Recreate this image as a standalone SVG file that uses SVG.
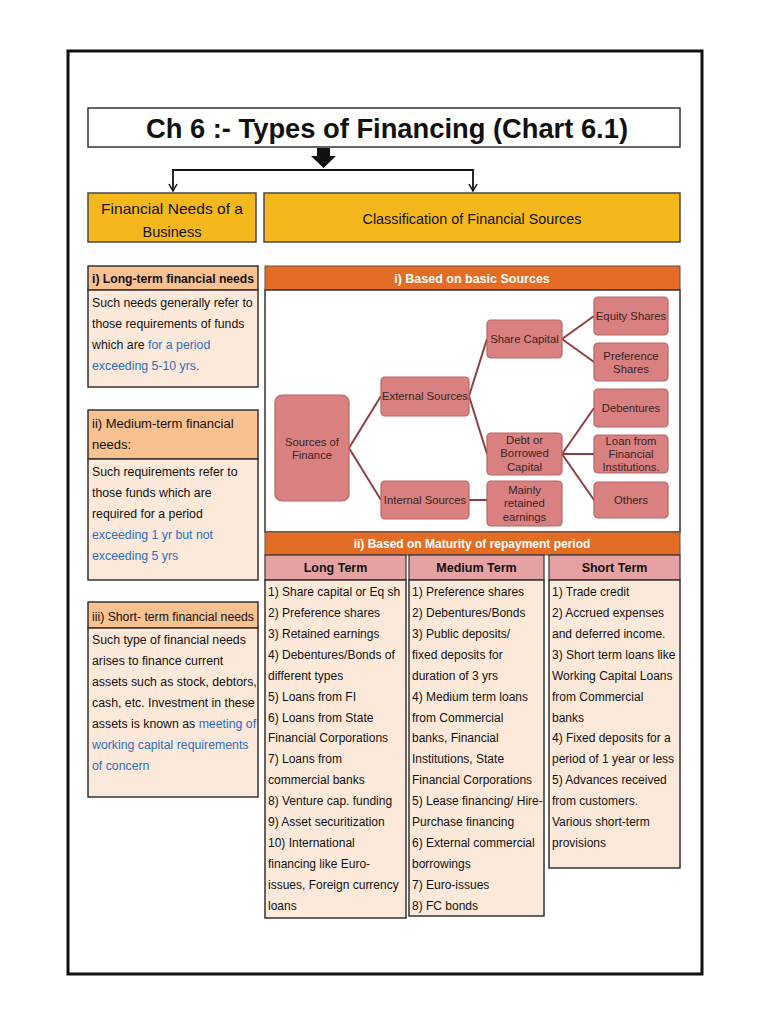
<svg xmlns="http://www.w3.org/2000/svg" width="768" height="1024" viewBox="0 0 768 1024">
<defs>
<style>
.t{font-family:"Liberation Sans",Arial,sans-serif;fill:#111}
.b{font-weight:bold}
.yel{fill:#F5B81C;stroke:#4a4a4a;stroke-width:1.5}
.hdr{fill:#F9C090;stroke:#333;stroke-width:1.5}
.body{fill:#FDE9D9;stroke:#333;stroke-width:1.5}
.org{fill:#E46C24;stroke:#555;stroke-width:1}
.ph{fill:#E6A2A2;stroke:#333;stroke-width:1.2}
.nd{fill:#D98080;stroke:#B86464;stroke-width:1.2}
.nt{font-family:"Liberation Sans",Arial,sans-serif;font-size:11.3px;fill:#3a2424;text-anchor:middle}
.bl{fill:#2B6FBF}
.ln{font-size:12px}
.lc{font-size:12.3px}
.tl{stroke:#8E3E3E;stroke-width:2;fill:none}
</style>
<marker id="ah" viewBox="0 0 10 10" refX="9" refY="5" markerWidth="10" markerHeight="10" orient="auto" markerUnits="userSpaceOnUse">
<path d="M2,1 L9,5 L2,9" fill="none" stroke="#111" stroke-width="1.5"/>
</marker>
</defs>
<rect x="0" y="0" width="768" height="1024" fill="#ffffff"/>
<rect x="68" y="51" width="634" height="923" fill="#ffffff" stroke="#111" stroke-width="3"/>

<g id="title">
<rect x="88" y="108" width="592" height="39" fill="#fff" stroke="#333" stroke-width="1.5"/>
<text class="t b" x="387" y="138" font-size="27" text-anchor="middle" textLength="482" lengthAdjust="spacingAndGlyphs">Ch 6 :- Types of Financing (Chart 6.1)</text>
</g>

<g id="needs">
<rect class="yel" x="88" y="193" width="168" height="49"/>
<text class="t" x="172" y="214" font-size="15" text-anchor="middle" textLength="142" lengthAdjust="spacingAndGlyphs">Financial Needs of a</text>
<text class="t" x="172" y="237" font-size="15" text-anchor="middle" textLength="59" lengthAdjust="spacingAndGlyphs">Business</text>
</g>
<g id="classification">
<rect class="yel" x="264" y="193" width="416" height="49"/>
<text class="t" x="472" y="224" font-size="15.5" text-anchor="middle" textLength="219" lengthAdjust="spacingAndGlyphs">Classification of Financial Sources</text>
</g>

<g id="long-term-needs">
<rect class="hdr" x="88" y="266" width="170" height="24"/>
<text class="t b" x="92" y="283" font-size="12.5" textLength="162" lengthAdjust="spacingAndGlyphs">i) Long-term financial needs</text>
<rect class="body" x="88" y="290" width="170" height="97"/>
<text class="t lc" x="92" y="307">Such needs generally refer to</text>
<text class="t lc" x="92" y="328">those requirements of funds</text>
<text class="t lc" x="92" y="349">which are <tspan class="bl">for a period</tspan></text>
<text class="t lc bl" x="92" y="370">exceeding 5-10 yrs.</text>
</g>

<g id="medium-term-needs">
<rect class="hdr" x="88" y="410" width="170" height="49"/>
<text class="t" x="92" y="428" font-size="13">ii) Medium-term financial</text>
<text class="t" x="92" y="449" font-size="13">needs:</text>
<rect class="body" x="88" y="459" width="170" height="121"/>
<text class="t lc" x="92" y="476">Such requirements refer to</text>
<text class="t lc" x="92" y="497">those funds which are</text>
<text class="t lc" x="92" y="518">required for a period</text>
<text class="t lc bl" x="92" y="539">exceeding 1 yr but not</text>
<text class="t lc bl" x="92" y="560">exceeding 5 yrs</text>
</g>

<g id="short-term-needs">
<rect class="hdr" x="88" y="602" width="170" height="26"/>
<text class="t" x="92" y="621" font-size="12.5" textLength="162" lengthAdjust="spacingAndGlyphs">iii) Short- term financial needs</text>
<rect class="body" x="88" y="628" width="170" height="169"/>
<text class="t lc" x="92" y="644">Such type of financial needs</text>
<text class="t lc" x="92" y="665">arises to finance current</text>
<text class="t lc" x="92" y="686">assets such as stock, debtors,</text>
<text class="t lc" x="92" y="707">cash, etc. Investment in these</text>
<text class="t lc" x="92" y="728">assets is known as <tspan class="bl">meeting of</tspan></text>
<text class="t lc bl" x="92" y="749">working capital requirements</text>
<text class="t lc bl" x="92" y="770">of concern</text>
</g>

<g id="basic-sources">
<rect class="org" x="265" y="266" width="415" height="24"/>
<text class="t b" x="472" y="283" font-size="12.5" style="fill:#fff" text-anchor="middle">i) Based on basic Sources</text>
<rect x="265" y="290" width="415" height="242" fill="#fff" stroke="#333" stroke-width="1.5"/>
</g>

<g id="connectors">
<polygon points="317,148 330,148 330,156 336,156 323.5,168 311,156 317,156" fill="#111"/>
<polyline points="173,170 473,170" fill="none" stroke="#111" stroke-width="1.8"/>
<line x1="173" y1="169" x2="173" y2="191" stroke="#111" stroke-width="1.8" marker-end="url(#ah)"/>
<line x1="473" y1="169" x2="473" y2="191" stroke="#111" stroke-width="1.8" marker-end="url(#ah)"/>
<line class="tl" x1="349" y1="448" x2="381" y2="396"/>
<line class="tl" x1="349" y1="448" x2="381" y2="500"/>
<line class="tl" x1="469" y1="396" x2="487" y2="339"/>
<line class="tl" x1="469" y1="396" x2="487" y2="454"/>
<line class="tl" x1="469" y1="500" x2="487" y2="500"/>
<line class="tl" x1="562" y1="339" x2="594" y2="316"/>
<line class="tl" x1="562" y1="339" x2="594" y2="362"/>
<line class="tl" x1="562" y1="454" x2="594" y2="408"/>
<line class="tl" x1="562" y1="454" x2="594" y2="454"/>
<line class="tl" x1="562" y1="454" x2="594" y2="500"/>
</g>

<g id="sources-of-finance">
<rect class="nd" x="275" y="395" width="74" height="106" rx="7"/>
<text class="nt" x="312" y="446">Sources of</text>
<text class="nt" x="312" y="459">Finance</text>
</g>
<g id="external-sources">
<rect class="nd" x="381" y="377" width="88" height="39" rx="4"/>
<text class="nt" x="425" y="400">External Sources</text>
</g>
<g id="internal-sources">
<rect class="nd" x="381" y="481" width="88" height="38" rx="4"/>
<text class="nt" x="425" y="504">Internal Sources</text>
</g>
<g id="share-capital">
<rect class="nd" x="487" y="320" width="75" height="38" rx="4"/>
<text class="nt" x="524.5" y="343">Share Capital</text>
</g>
<g id="debt-capital">
<rect class="nd" x="487" y="433" width="75" height="42" rx="4"/>
<text class="nt" x="524.5" y="444">Debt or</text>
<text class="nt" x="524.5" y="457">Borrowed</text>
<text class="nt" x="524.5" y="471">Capital</text>
</g>
<g id="retained-earnings">
<rect class="nd" x="487" y="481" width="75" height="45" rx="4"/>
<text class="nt" x="524.5" y="494">Mainly</text>
<text class="nt" x="524.5" y="507">retained</text>
<text class="nt" x="524.5" y="521">earnings</text>
</g>
<g id="equity-shares">
<rect class="nd" x="594" y="297" width="74" height="38" rx="4"/>
<text class="nt" x="631" y="320">Equity Shares</text>
</g>
<g id="preference-shares">
<rect class="nd" x="594" y="343" width="74" height="38" rx="4"/>
<text class="nt" x="631" y="360">Preference</text>
<text class="nt" x="631" y="373">Shares</text>
</g>
<g id="debentures">
<rect class="nd" x="594" y="389" width="74" height="38" rx="4"/>
<text class="nt" x="631" y="412">Debentures</text>
</g>
<g id="loan-fi">
<rect class="nd" x="594" y="435" width="74" height="38" rx="4"/>
<text class="nt" x="631" y="445">Loan from</text>
<text class="nt" x="631" y="458">Financial</text>
<text class="nt" x="631" y="471">Institutions.</text>
</g>
<g id="others">
<rect class="nd" x="594" y="482" width="74" height="36" rx="4"/>
<text class="nt" x="631" y="504">Others</text>
</g>

<g id="maturity">
<rect class="org" x="265" y="532" width="415" height="23"/>
<text class="t b" x="472" y="548" font-size="12" style="fill:#fff" text-anchor="middle">ii) Based on Maturity of repayment period</text>
</g>

<g id="long-term">
<rect class="ph" x="265" y="555" width="141" height="25"/>
<text class="t b" x="335.5" y="572" font-size="12.5" text-anchor="middle">Long Term</text>
<rect class="body" x="265" y="580" width="141" height="338"/>
<g class="t ln">
<text x="268" y="596">1) Share capital or Eq sh</text>
<text x="268" y="617">2) Preference shares</text>
<text x="268" y="638">3) Retained earnings</text>
<text x="268" y="659">4) Debentures/Bonds of</text>
<text x="268" y="680">different types</text>
<text x="268" y="701">5) Loans from FI</text>
<text x="268" y="722">6) Loans from State</text>
<text x="268" y="742">Financial Corporations</text>
<text x="268" y="763">7) Loans from</text>
<text x="268" y="784">commercial banks</text>
<text x="268" y="805">8) Venture cap. funding</text>
<text x="268" y="826">9) Asset securitization</text>
<text x="268" y="847">10) International</text>
<text x="268" y="868">financing like Euro-</text>
<text x="268" y="889">issues, Foreign currency</text>
<text x="268" y="910">loans</text>
</g>
</g>

<g id="medium-term">
<rect class="ph" x="409" y="555" width="135" height="25"/>
<text class="t b" x="476.5" y="572" font-size="12.5" text-anchor="middle">Medium Term</text>
<rect class="body" x="409" y="580" width="135" height="336"/>
<g class="t ln">
<text x="412" y="596">1) Preference shares</text>
<text x="412" y="617">2) Debentures/Bonds</text>
<text x="412" y="638">3) Public deposits/</text>
<text x="412" y="659">fixed deposits for</text>
<text x="412" y="680">duration of 3 yrs</text>
<text x="412" y="701">4) Medium term loans</text>
<text x="412" y="722">from Commercial</text>
<text x="412" y="742">banks, Financial</text>
<text x="412" y="763">Institutions, State</text>
<text x="412" y="784">Financial Corporations</text>
<text x="412" y="805">5) Lease financing/ Hire-</text>
<text x="412" y="826">Purchase financing</text>
<text x="412" y="847">6) External commercial</text>
<text x="412" y="868">borrowings</text>
<text x="412" y="889">7) Euro-issues</text>
<text x="412" y="910">8) FC bonds</text>
</g>
</g>

<g id="short-term">
<rect class="ph" x="549" y="555" width="131" height="25"/>
<text class="t b" x="614.5" y="572" font-size="12.5" text-anchor="middle">Short Term</text>
<rect class="body" x="549" y="580" width="131" height="288"/>
<g class="t ln">
<text x="552" y="596">1) Trade credit</text>
<text x="552" y="617">2) Accrued expenses</text>
<text x="552" y="638">and deferred income.</text>
<text x="552" y="659">3) Short term loans like</text>
<text x="552" y="680">Working Capital Loans</text>
<text x="552" y="701">from Commercial</text>
<text x="552" y="722">banks</text>
<text x="552" y="742">4) Fixed deposits for a</text>
<text x="552" y="763">period of 1 year or less</text>
<text x="552" y="784">5) Advances received</text>
<text x="552" y="805">from customers.</text>
<text x="552" y="826">Various short-term</text>
<text x="552" y="847">provisions</text>
</g>
</g>
</svg>
